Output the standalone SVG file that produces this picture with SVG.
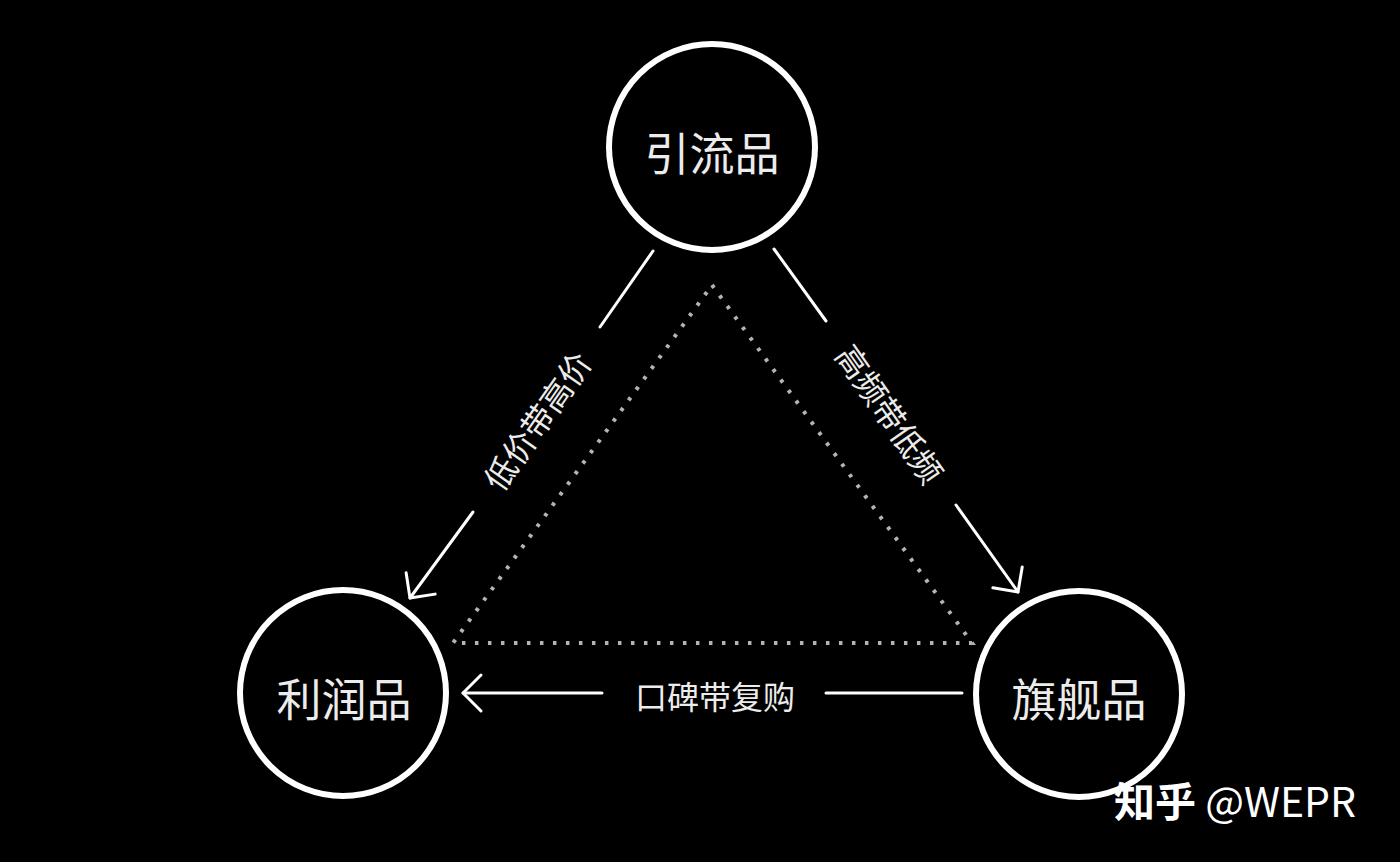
<svg xmlns="http://www.w3.org/2000/svg" width="1400" height="862" viewBox="0 0 1400 862">
<style>
.node{fill:#000;stroke:#fff;stroke-width:6}
.ntext{font-family:"Noto Sans CJK SC","Noto Sans",sans-serif;font-size:45px;fill:#ececec;text-anchor:middle;dominant-baseline:central}
.conn{stroke:#fff;stroke-width:3;fill:none;stroke-linecap:round}
.ltext{font-family:"Noto Sans CJK SC","Noto Sans",sans-serif;font-size:32px;fill:#ececec;text-anchor:middle;dominant-baseline:central}
.dots{fill:none;stroke:#b4b4b4;stroke-width:4;stroke-dasharray:3.5 9.5}
</style>
<defs>
<marker id="chev" markerUnits="userSpaceOnUse" viewBox="-25 -25 30 50" markerWidth="30" markerHeight="50" refX="0" refY="0" orient="auto" overflow="visible">
<path d="M-18,-18 L0,0 L-18,18" fill="none" stroke="#fff" stroke-width="3" stroke-linecap="round" stroke-linejoin="round"/>
</marker>
</defs>
<rect width="1400" height="862" fill="#000"/>
<g id="guide">
<polygon class="dots" points="712,285 972,643 453,643"/>
</g>
<g id="connectors">
<line class="conn" x1="653" y1="251" x2="600" y2="327"/>
<line class="conn" x1="473" y1="512" x2="410" y2="598" marker-end="url(#chev)"/>
<text class="ltext" transform="translate(536,420) rotate(-55)">低价带高价</text>
<line class="conn" x1="774" y1="249" x2="826" y2="321"/>
<line class="conn" x1="956" y1="505" x2="1018" y2="592" marker-end="url(#chev)"/>
<text class="ltext" transform="translate(891,413) rotate(55)">高频带低频</text>
<line class="conn" x1="962" y1="693" x2="826" y2="693"/>
<line class="conn" x1="602" y1="693" x2="463" y2="693" marker-end="url(#chev)"/>
<text class="ltext" x="715" y="695">口碑带复购</text>
</g>
<g id="node-yinliu">
<circle class="node" cx="712" cy="147" r="103"/>
<text class="ntext" x="712" y="151">引流品</text>
</g>
<g id="node-lirun">
<circle class="node" cx="343" cy="693" r="103"/>
<text class="ntext" x="344" y="697">利润品</text>
</g>
<g id="node-qijian">
<circle class="node" cx="1079" cy="694" r="103"/>
<text class="ntext" x="1079" y="697">旗舰品</text>
</g>
<g id="watermark">
<text x="1114" y="817" font-family="Noto Sans CJK SC,Noto Sans,sans-serif" font-size="41" fill="#fff"><tspan font-weight="bold">知乎</tspan> @WEPR</text>
</g>
</svg>
